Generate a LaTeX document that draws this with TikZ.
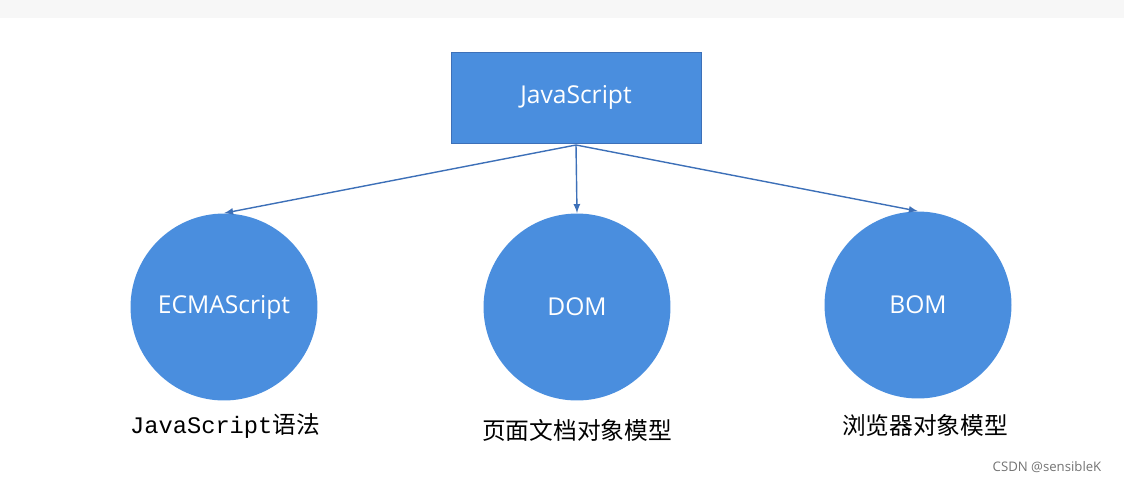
\documentclass[tikz,border=0pt]{standalone}
\usepackage{fontspec}
\setmainfont{Open Sans}
\setmonofont{Liberation Mono}
\newfontfamily\cjk{Noto Sans CJK SC}
\usetikzlibrary{positioning}
\definecolor{jsblue}{HTML}{4A8EDE}
\definecolor{jsedge}{HTML}{3D70B8}
\begin{document}
\begin{tikzpicture}[x=0.02cm,y=-0.02cm,
    box/.style={draw=jsedge,fill=jsblue,minimum width=5cm,minimum height=1.82cm,text=white,font=\fontsize{14}{16}\selectfont},
    ball/.style={circle,fill=jsblue,minimum size=3.74cm,text=white,font=\fontsize{14}{16}\selectfont},
    note/.style={font=\fontsize{13.5}{16}\selectfont},
    link/.style={draw=jsedge,thick,-latex}]
    \useasboundingbox (0,0) rectangle (1124,483);
    \fill[black!3] (0,0) rectangle (1124,18);
    \node[box] (js) at (576,97.5) {JavaScript};
    \node[ball] (es) at (224,307) {ECMAScript};
    \node[ball] (dom) at (577,307) {DOM};
    \node[ball] (bom) at (918,305) {BOM};
    \coordinate (root) at (576,145);
    \draw[link] (root) -- (es.north);
    \draw[link] (root) -- (dom.north);
    \draw[link] (root) -- (bom.north);
    \node[note] (esl) at (225,426) {\ttfamily JavaScript\cjk 语法};
    \node[note] (doml) at (577,430) {\cjk 页面文档对象模型};
    \node[note] (boml) at (925,425) {\cjk 浏览器对象模型};
    \node[font=\fontsize{7.5}{9}\selectfont,text=black!55] (mark) at (1047,467) {CSDN @sensibleK};
\end{tikzpicture}
\end{document}
